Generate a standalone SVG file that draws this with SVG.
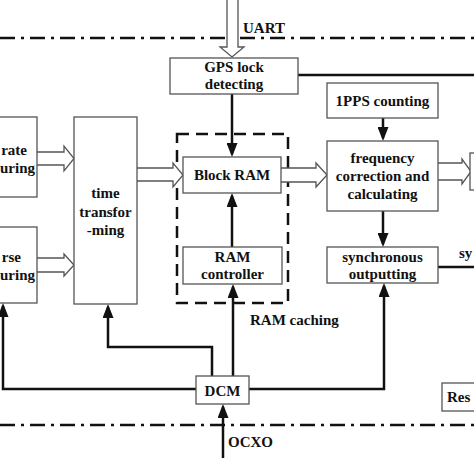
<svg xmlns="http://www.w3.org/2000/svg" width="474" height="474" viewBox="0 0 474 474">
<style>
.box{fill:#fff;stroke:#555;stroke-width:1.3}
.t{font-family:"Liberation Serif","Times New Roman",serif;font-weight:bold;font-size:15px;fill:#111;text-anchor:middle}
.tl{font-family:"Liberation Serif","Times New Roman",serif;font-weight:bold;font-size:15px;fill:#111}
.te{font-family:"Liberation Serif","Times New Roman",serif;font-weight:bold;font-size:15px;fill:#111;text-anchor:end}
.c{fill:none;stroke:#111;stroke-width:2.5}
.ha{fill:#fff;stroke:#555;stroke-width:1.3}
.dd{fill:none;stroke:#111;stroke-width:2.5;stroke-dasharray:15,6,3,6}
.dash{fill:none;stroke:#111;stroke-width:2.5;stroke-dasharray:12,7}
</style>
<defs>
<marker id="ah" markerUnits="userSpaceOnUse" markerWidth="14" markerHeight="11" refX="11" refY="5.5" orient="auto">
<path d="M0,0 L14,5.5 L0,11 z" fill="#111"/>
</marker>
</defs>
<rect width="474" height="474" fill="#fff"/>

<g id="boundary">
<line class="dd" x1="0" y1="38" x2="474" y2="38"/>
<line class="dd" x1="0" y1="425" x2="474" y2="425"/>
</g>

<g id="ram-caching">
<rect class="dash" x="177" y="134" width="111" height="169"/>
<text class="tl" x="250" y="325">RAM caching</text>
</g>

<g id="connectors">
<path class="ha" d="M227,0 V47 H220 L232,57 L244,47 H238 V0"/>
<path class="ha" d="M37,152 H64 V146 L74,158.5 L64,171 V165 H37"/>
<path class="ha" d="M37,258 H64 V254 L74,265 L64,276 V272 H37"/>
<path class="ha" d="M137,168 H173 V163 L183,175 L173,187 V181 H137"/>
<path class="ha" d="M281,168 H316 V163 L327,175 L316,187 V182 H281"/>
<path class="ha" d="M438,163 H462 V159 L471,171.5 L462,184 V180 H438"/>
<line class="c" x1="232" y1="94" x2="232" y2="154" marker-end="url(#ah)"/>
<line class="c" x1="383" y1="118" x2="383" y2="138" marker-end="url(#ah)"/>
<line class="c" x1="383" y1="211" x2="383" y2="244" marker-end="url(#ah)"/>
<line class="c" x1="232" y1="247" x2="232" y2="196" marker-end="url(#ah)"/>
<line class="c" x1="233" y1="376" x2="233" y2="287" marker-end="url(#ah)"/>
<polyline class="c" points="212,376 212,347 108,347 108,307" marker-end="url(#ah)"/>
<polyline class="c" points="196,389 3,389 3,306" marker-end="url(#ah)"/>
<polyline class="c" points="249,389 384,389 384,286" marker-end="url(#ah)"/>
<line class="c" x1="223" y1="458" x2="223" y2="407" marker-end="url(#ah)"/>
<line class="c" x1="298" y1="75" x2="474" y2="75"/>
<line class="c" x1="438" y1="267" x2="474" y2="267"/>
<text class="tl" x="243" y="33">UART</text>
<text class="tl" x="228" y="447">OCXO</text>
<text class="tl" x="459" y="258">sy</text>
</g>

<g id="rate">
<rect class="box" x="-20" y="117" width="57" height="80"/>
<text class="te" x="27" y="155">rate</text>
<text class="te" x="35" y="173">uring</text>
</g>

<g id="pulse">
<rect class="box" x="-20" y="227" width="57" height="76"/>
<text class="te" x="21" y="262">rse</text>
<text class="te" x="35" y="280">uring</text>
</g>

<g id="gps">
<rect class="box" x="170" y="58" width="128" height="36"/>
<text class="t" x="234" y="72">GPS lock</text>
<text class="t" x="234" y="89">detecting</text>
</g>

<g id="pps">
<rect class="box" x="327" y="83" width="111" height="35"/>
<text class="t" x="382.5" y="106">1PPS counting</text>
</g>

<g id="time">
<rect class="box" x="74" y="117" width="63" height="187"/>
<text class="t" x="105.5" y="198">time</text>
<text class="t" x="105.5" y="217">transfor</text>
<text class="t" x="105.5" y="235">-ming</text>
</g>

<g id="blockram">
<rect class="box" x="183" y="157" width="98" height="36"/>
<text class="t" x="232" y="180">Block RAM</text>
</g>

<g id="ramctrl">
<rect class="box" x="183" y="247" width="99" height="37"/>
<text class="t" x="232.5" y="262">RAM</text>
<text class="t" x="232.5" y="279">controller</text>
</g>

<g id="freq">
<rect class="box" x="327" y="141" width="111" height="70"/>
<text class="t" x="382.5" y="163">frequency</text>
<text class="t" x="382.5" y="181">correction and</text>
<text class="t" x="382.5" y="199">calculating</text>
</g>

<g id="sync">
<rect class="box" x="327" y="247" width="111" height="36"/>
<text class="t" x="382.5" y="262">synchronous</text>
<text class="t" x="382.5" y="279">outputting</text>
</g>

<g id="rightbox">
<rect class="box" x="470" y="153" width="20" height="37"/>
</g>

<g id="dcm">
<rect class="box" x="196" y="376" width="53" height="28"/>
<text class="t" x="222.5" y="396">DCM</text>
</g>

<g id="res">
<rect class="box" x="442" y="383" width="50" height="28"/>
<text class="tl" x="447" y="402">Res</text>
</g>
</svg>
